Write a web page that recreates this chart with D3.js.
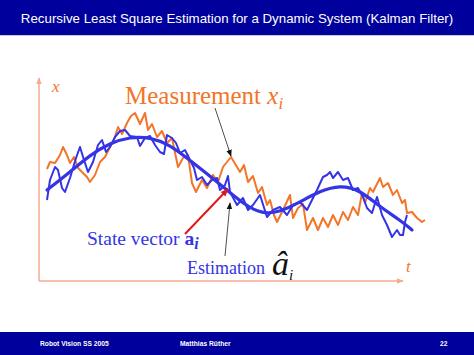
<!DOCTYPE html>
<html>
<head>
<meta charset="utf-8">
<script src="https://cdn.jsdelivr.net/npm/d3@7"></script>
<style>
  body { margin: 0; background: #fff; }
  svg { display: block; }
</style>
</head>
<body>
<div id="chart"></div>
<script>
"use strict";

// Time t and value x are in arbitrary units (0..100 on each axis)

var estimateT = [2, 7.75, 12.75, 17.75, 22.75, 27.75, 32.75, 37, 41.5, 47, 51.5, 55.75,
  60.25, 65.25, 70.25, 75.25, 80.25, 85.25, 90.25, 93.25];
var estimateX = [45.5, 54.5, 63, 69, 72, 72, 68, 61.5, 54.5, 45.5, 38, 33.5,
  34.5, 39.5, 45, 48, 45.5, 37, 30.5, 25.5];

var measureT = [2, 2.75, 4, 5.25, 6, 7, 7.75, 8.75, 9.75, 10.75, 12, 12.75, 14, 15.25,
  16.5, 17.75, 18.75, 19.75, 20.75, 22, 23, 24, 25.25, 26.5, 27.25, 28.25, 29.5, 30.75,
  32, 33.25, 34.75, 36, 37.25, 38.25, 39.25, 40.75, 42, 43.5, 44.75, 46, 48, 50.25,
  51.25, 52.25, 53.5, 54.75, 55.75, 57, 57.75, 58.75, 59.5, 61, 62.75, 63.5, 64.75, 66,
  67, 68.5, 69.75, 71, 72.25, 73.5, 74.75, 76, 77.25, 78.5, 79.75, 80.75, 81.5, 82.75,
  83.5, 85.25, 86, 87.25, 88.5, 89.5, 90.75, 91.5, 92, 93.25, 94.5, 95.75, 96.5];
var measureX = [56, 59.5, 59, 63, 67, 63, 59, 62, 56.5, 54.5, 52, 49.5, 53, 59.5,
  62, 67, 70.5, 77, 73.5, 79, 82.5, 84, 78.5, 84, 75.5, 78.5, 72, 75,
  69, 71.5, 57, 61.5, 63, 49, 44.5, 50.5, 46.5, 53, 49.5, 57, 62, 54.5,
  58, 49.5, 52.5, 44, 47, 38, 40.5, 33, 29.5, 35.5, 43, 31.5, 36.5, 38.5,
  25.5, 31.5, 25.5, 31.5, 27, 33, 28, 34.5, 30.5, 37, 33, 44, 39, 46.5,
  44.5, 51.5, 47, 49, 43, 45.5, 39, 40.5, 34, 34.5, 31.5, 29.5, 30.5];

var stateT = [2, 2.75, 4, 4.75, 5.75, 6.5, 7.75, 9.25, 10.25, 11.25, 12.25, 13.5, 14.75,
  15.75, 16.75, 17.75, 19, 20.25, 21.5, 22.75, 24.5, 25.25, 26.5, 27.75, 29, 30.25,
  31.25, 32, 33.25, 34.25, 35.25, 36.5, 37.75, 38.75, 39.5, 40.75, 42, 43.25, 44.5,
  45.25, 46.5, 47.25, 47.75, 49.5, 51, 52.25, 53.5, 55.25, 57, 58.5, 60.25, 62, 63.5,
  65.25, 67, 68.5, 69.5, 71, 72, 72.75, 73.5, 74.75, 76, 77.25, 78.5, 79.75, 81, 82,
  83.25, 84.5, 85.75, 87, 88.25, 89.5, 90.25, 91, 91.5, 92];
var stateX = [40.5, 50.5, 57, 55.5, 46.5, 44.5, 51.5, 61.5, 67, 60.5, 54.5, 59.5, 68,
  70.5, 64.5, 67, 72, 75, 75.5, 72.5, 72, 67.5, 71.5, 72.5, 68, 64.5,
  63.5, 73, 71.5, 69, 64, 65.5, 60.5, 56.5, 50.5, 52, 48, 50.5, 51.5,
  45.5, 48, 52.5, 44.5, 38, 41.5, 35.5, 38, 43, 32, 35.5, 37, 33, 38,
  39.5, 35.5, 41.5, 45.5, 52, 53, 54.5, 51.5, 54.5, 50.5, 51.5, 45.5, 46.5, 42, 36.5,
  34, 42, 33, 28, 22, 25.5, 23, 23, 29.5, 33];

var titleText = "Recursive Least Square Estimation for a Dynamic System (Kalman Filter)";
var footerTexts = ["Robot Vision SS 2005", "Matthias R\u00fcther", "22"];

var width = 474, height = 355;
var navy = "#00009c";
var orange = "#f47428";
var blue = "#3434e6";
var axisColor = "#f4ab90";

var svg = d3.select("#chart").append("svg")
  .attr("width", width)
  .attr("height", height);

var defs = svg.append("defs");
function marker(id, color, size) {
  defs.append("marker")
    .attr("id", id)
    .attr("viewBox", "0 0 10 10")
    .attr("refX", 9).attr("refY", 5)
    .attr("markerWidth", size).attr("markerHeight", size)
    .attr("markerUnits", "userSpaceOnUse")
    .attr("orient", "auto")
    .append("path")
      .attr("d", "M0,1 L10,5 L0,9 Z")
      .attr("fill", color);
}
marker("arrAxis", axisColor, 7);
marker("arrBlack", "#111", 7);
marker("arrRed", "#e01818", 8);

// Title and footer bars
svg.append("rect").attr("x", 0).attr("y", 0).attr("width", width).attr("height", 35).attr("fill", navy);
svg.append("rect").attr("x", 0).attr("y", 35).attr("width", width).attr("height", 1).attr("fill", "#c8c8d8");
svg.append("text")
  .attr("x", width / 2).attr("y", 22.5)
  .attr("text-anchor", "middle")
  .attr("fill", "#fff")
  .style("font", "13.3px 'Liberation Sans', Arial, sans-serif")
  .text(titleText);

svg.append("rect").attr("x", 0).attr("y", 332).attr("width", width).attr("height", 23).attr("fill", navy);
var footerX = [40, 180, 440];
svg.selectAll("text.footer")
  .data(footerTexts)
  .enter().append("text")
    .attr("class", "footer")
    .attr("x", function (d, i) { return footerX[i]; })
    .attr("y", 346)
    .attr("fill", "#fff")
    .style("font", "bold 6.7px 'Liberation Sans', Arial, sans-serif")
    .text(function (d) { return d; });

// Scales
var x = d3.scaleLinear().domain([0, 91]).range([39, 403]);
var y = d3.scaleLinear().domain([0, 100]).range([281, 81]);

// Axes (arrows)
svg.append("line")
  .attr("x1", x(0)).attr("y1", y(0)).attr("x2", x(0)).attr("y2", y(101.5))
  .attr("stroke", axisColor).attr("stroke-width", 1.5)
  .attr("marker-end", "url(#arrAxis)");
svg.append("line")
  .attr("x1", x(0)).attr("y1", y(0)).attr("x2", x(91)).attr("y2", y(0))
  .attr("stroke", axisColor).attr("stroke-width", 1.5)
  .attr("marker-end", "url(#arrAxis)");

svg.append("text")
  .attr("x", 52).attr("y", 92)
  .attr("fill", orange)
  .style("font", "italic 17px 'Liberation Serif', serif")
  .text("x");
svg.append("text")
  .attr("x", 406).attr("y", 272)
  .attr("fill", orange)
  .style("font", "italic 17px 'Liberation Serif', serif")
  .text("t");

function zip(ts, xs) {
  return ts.map(function (t, i) { return [t, xs[i]]; });
}

var rough = d3.line()
  .x(function (d) { return x(d[0]); })
  .y(function (d) { return y(d[1]); });

var smooth = d3.line()
  .x(function (d) { return x(d[0]); })
  .y(function (d) { return y(d[1]); })
  .curve(d3.curveBasis);

svg.append("path")
  .datum(zip(measureT, measureX))
  .attr("d", rough)
  .attr("fill", "none")
  .attr("stroke", orange)
  .attr("stroke-width", 2)
  .attr("stroke-linejoin", "round");

svg.append("path")
  .datum(zip(stateT, stateX))
  .attr("d", rough)
  .attr("fill", "none")
  .attr("stroke", blue)
  .attr("stroke-width", 2)
  .attr("stroke-linejoin", "round");

svg.append("path")
  .datum(zip(estimateT, estimateX))
  .attr("d", smooth)
  .attr("fill", "none")
  .attr("stroke", blue)
  .attr("stroke-width", 3.2)
  .attr("stroke-linecap", "round");

// Annotations
var serif = "'Liberation Serif', 'Times New Roman', serif";

var meas = svg.append("text")
  .attr("x", 125).attr("y", 104)
  .attr("fill", orange)
  .style("font-family", serif)
  .style("font-size", "25px");
meas.append("tspan").text("Measurement ");
meas.append("tspan").style("font-style", "italic").text("x");
meas.append("tspan").attr("dy", 5).style("font-style", "italic").style("font-size", "17px").text("i");

svg.append("line")
  .attr("x1", 215).attr("y1", 108).attr("x2", 231).attr("y2", 156)
  .attr("stroke", "#222").attr("stroke-width", 0.8)
  .attr("marker-end", "url(#arrBlack)");

var state = svg.append("text")
  .attr("x", 87).attr("y", 245)
  .attr("fill", blue)
  .style("font-family", serif)
  .style("font-size", "19.5px");
state.append("tspan").text("State vector ");
state.append("tspan").style("font-weight", "bold").text("a");
state.append("tspan").attr("dy", 4).style("font-weight", "bold").style("font-style", "italic").style("font-size", "16px").text("i");

svg.append("line")
  .attr("x1", 185).attr("y1", 234).attr("x2", 228).attr("y2", 189)
  .attr("stroke", "#e01818").attr("stroke-width", 2)
  .attr("marker-end", "url(#arrRed)");

svg.append("text")
  .attr("x", 187).attr("y", 274)
  .attr("fill", blue)
  .style("font-family", serif)
  .style("font-size", "18px")
  .text("Estimation");

var est = svg.append("text")
  .attr("x", 272).attr("y", 275)
  .attr("fill", "#111")
  .style("font-family", serif)
  .style("font-style", "italic");
est.append("tspan").style("font-size", "34px").text("\u00e2");
est.append("tspan").attr("dy", 5).style("font-size", "15px").text("i");

svg.append("line")
  .attr("x1", 225).attr("y1", 256).attr("x2", 230).attr("y2", 203)
  .attr("stroke", "#222").attr("stroke-width", 0.8)
  .attr("marker-end", "url(#arrBlack)");
</script>
</body>
</html>
